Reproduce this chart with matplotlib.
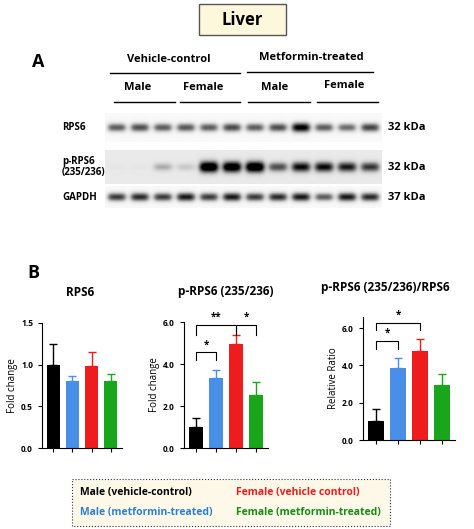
import numpy as np
import matplotlib.pyplot as plt
from matplotlib.patches import Rectangle

W, H = 474, 529
colors = ['#000000', '#4a8fe7', '#ee1c1c', '#1aa61a']

# western blot band intensities, 12 lanes
rps6_bands = [0.6, 0.65, 0.6, 0.62, 0.6, 0.66, 0.6, 0.65, 0.9, 0.6, 0.55, 0.68]
prps6_bands = [0.02, 0.02, 0.25, 0.15, 1.0, 0.95, 1.0, 0.55, 0.75, 0.75, 0.7, 0.62]
gapdh_bands = [0.7, 0.75, 0.7, 0.8, 0.7, 0.8, 0.7, 0.75, 0.8, 0.6, 0.8, 0.75]

# bar data
rps6_mean = [1.0, 0.81, 0.99, 0.80]
rps6_err = [0.25, 0.06, 0.16, 0.09]
prps6_mean = [1.0, 3.35, 4.97, 2.52]
prps6_err = [0.43, 0.35, 0.40, 0.60]
ratio_mean = [1.0, 3.85, 4.78, 2.93]
ratio_err = [0.65, 0.55, 0.62, 0.62]

plt.rcParams['font.family'] = ['Open Sans', 'DejaVu Sans']
plt.rcParams['font.weight'] = 'bold'

fig = plt.figure(figsize=(W / 100, H / 100), dpi=100)
bg = fig.add_axes([0, 0, 1, 1])
bg.set_xlim(0, W)
bg.set_ylim(H, 0)
bg.axis('off')


def px(x0, y0, x1, y1):
    return [x0 / W, 1 - y1 / H, (x1 - x0) / W, (y1 - y0) / H]


# title box
bg.add_patch(Rectangle((199, 4), 87, 31, fc='#fdf8dc', ec='#555555', lw=1))
bg.text(242, 20, 'Liver', ha='center', va='center', fontsize=12)
bg.text(38, 62, 'A', ha='center', va='center', fontsize=13)
bg.text(33, 273, 'B', ha='center', va='center', fontsize=13)

bg.text(169, 59, 'Vehicle-control', ha='center', va='center', fontsize=8)
bg.text(311, 58, 'Metformin-treated', ha='center', va='center', fontsize=8)
bg.plot([110, 240], [73, 73], color='k', lw=1)
bg.plot([247, 373], [72, 72], color='k', lw=1)
for x, y, s in [(138, 88, 'Male'), (203, 87, 'Female'), (275, 88, 'Male'), (344, 85, 'Female')]:
    bg.text(x, y, s, ha='center', va='center', fontsize=8)
for a, b in [(114, 175), (180, 240), (248, 310), (317, 378)]:
    bg.plot([a, b], [102, 102], color='k', lw=1)

bg.text(62, 127, 'RPS6', ha='left', va='center', fontsize=7)
bg.text(62, 167, 'p-RPS6\n(235/236)', ha='left', va='center', fontsize=7, linespacing=1.1)
bg.text(62, 197, 'GAPDH', ha='left', va='center', fontsize=7)
for y, s in [(127, '32 kDa'), (167, '32 kDa'), (197, '37 kDa')]:
    bg.text(388, y, s, ha='left', va='center', fontsize=8)


def blot(bands, y0, y1, base, width):
    n = len(bands)
    xs = np.linspace(0, n, 400)
    ys = np.linspace(-1, 1, 60)
    img = np.full((len(ys), len(xs)), base)
    for i, v in enumerate(bands):
        bx = np.exp(-((xs - (i + 0.5)) / 0.42) ** 4)
        by = np.exp(-(ys / (width * (0.8 + 0.5 * v))) ** 2)
        img = img + 1.1 * v * np.outer(by, bx)
    ax = fig.add_axes(px(105, y0, 382, y1))
    ax.imshow(np.clip(img, 0, 1), cmap='Greys', vmin=0, vmax=1, aspect='auto')
    ax.axis('off')


blot(rps6_bands, 113, 142, 0.05, 0.28)
blot(prps6_bands, 150, 184, 0.16, 0.26)
blot(gapdh_bands, 186, 208, 0.05, 0.35)


def bars(rect, means, errs, ymax, ticks, ylabel, title, tx):
    ax = fig.add_axes(px(*rect))
    x = np.arange(4)
    for i in range(4):
        ax.bar(x[i], means[i], 0.7, color=colors[i])
        ax.errorbar(x[i], means[i], yerr=[[0], [errs[i]]], color=colors[i],
                    capsize=3, lw=1)
    ax.set_ylim(0, ymax)
    ax.set_xlim(-0.6, 3.6)
    ax.set_yticks(ticks)
    ax.set_yticklabels(['%.1f' % t for t in ticks], fontsize=6)
    ax.set_xticks(x)
    ax.set_xticklabels([])
    ax.tick_params(length=3, width=0.8)
    ax.spines[['top', 'right']].set_visible(False)
    ax.set_ylabel(ylabel, fontsize=7, labelpad=2)
    bg.text(tx, rect[1] - 30, title, ha='center', va='center', fontsize=8.5)
    return ax


def bracket(ax, a, b, y, h, s):
    ax.plot([a, a, b, b], [y - h, y, y, y - h], color='k', lw=0.8, clip_on=False)
    ax.text((a + b) / 2, y + h * 0.3, s, ha='center', va='bottom', fontsize=7)


bars((42, 323, 122, 448), rps6_mean, rps6_err, 1.5, [0, 0.5, 1.0, 1.5], 'Fold change', 'RPS6', 80)
ax2 = bars((184, 322, 268, 448), prps6_mean, prps6_err, 6.0, [0, 2, 4, 6], 'Fold change',
           'p-RPS6 (235/236)', 226)
bracket(ax2, 0, 1, 4.55, 0.35, '*')
bracket(ax2, 0, 2, 5.85, 0.45, '**')
bracket(ax2, 2, 3, 5.85, 0.45, '*')
ax3 = bars((363, 317, 455, 440), ratio_mean, ratio_err, 6.6, [0, 2, 4, 6], 'Relative Ratio',
           'p-RPS6 (235/236)/RPS6', 385)
bracket(ax3, 0, 1, 5.3, 0.4, '*')
bracket(ax3, 0, 2, 6.3, 0.4, '*')

# legend box
bg.add_patch(Rectangle((72, 479), 318, 47, fc='#fdf8e8', ec='#333333', lw=0.8, ls=':'))
bg.text(80, 493, 'Male (vehicle-control)', ha='left', va='center', fontsize=7.5, color='k')
bg.text(236, 493, 'Female (vehicle control)', ha='left', va='center', fontsize=7.5, color=colors[2])
bg.text(80, 513, 'Male (metformin-treated)', ha='left', va='center', fontsize=7.5, color='#2f7fd0')
bg.text(236, 513, 'Female (metformin-treated)', ha='left', va='center', fontsize=7.5, color='#188a18')

fig.savefig('out.png', dpi=100)
